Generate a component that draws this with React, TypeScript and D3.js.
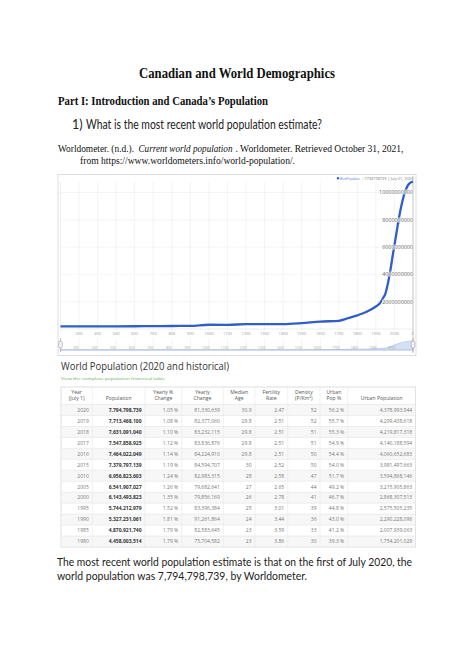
import React from "react";
import * as d3 from "d3";

// ---------- chart data (World Population, worldometers) ----------
const lineYears = [200, 400, 500, 600, 700, 800, 900, 1000, 1100, 1200, 1300, 1400, 1500, 1600, 1700, 1750, 1800, 1850, 1900, 1910, 1920, 1930, 1940, 1950, 1960, 1970, 1980, 1990, 2000, 2010, 2020, 2030, 2040, 2050, 2060, 2070, 2080, 2090, 2100];
const linePop = [190e6, 190e6, 190e6, 200e6, 210e6, 220e6, 226e6, 310e6, 301e6, 360e6, 360e6, 350e6, 425e6, 545e6, 600e6, 790e6, 1000e6, 1262e6, 1650e6, 1750e6, 1860e6, 2070e6, 2300e6, 2536e6, 3035e6, 3700e6, 4458e6, 5327e6, 6143e6, 6957e6, 7795e6, 8548e6, 9199e6, 9735e6, 10152e6, 10470e6, 10650e6, 10750e6, 10800e6];
const yTicks = [2e9, 4e9, 6e9, 8e9, 10e9];
const xTicks = [300, 400, 500, 600, 700, 800, 900, 1000, 1100, 1200, 1300, 1400, 1500, 1600, 1700, 1800, 1900, 2000, 2100];
const currentYear = 2020;
const currentPop = 7794798739;

// ---------- table data ----------
const headers = [["Year", "(July 1)"], ["Population"], ["Yearly %", "Change"], ["Yearly", "Change"], ["Median", "Age"], ["Fertility", "Rate"], ["Density", "(P/Km²)"], ["Urban", "Pop %"], ["Urban Population"]];
const tYears = ["2020", "2019", "2018", "2017", "2016", "2015", "2010", "2005", "2000", "1995", "1990", "1985", "1980"];
const tPop = ["7,794,798,739", "7,713,468,100", "7,631,091,040", "7,547,858,925", "7,464,022,049", "7,379,797,139", "6,956,823,603", "6,541,907,027", "6,143,493,823", "5,744,212,979", "5,327,231,061", "4,870,921,740", "4,458,003,514"];
const tPct = ["1.05 %", "1.08 %", "1.10 %", "1.12 %", "1.14 %", "1.19 %", "1.24 %", "1.26 %", "1.35 %", "1.52 %", "1.81 %", "1.79 %", "1.79 %"];
const tChange = ["81,330,639", "82,377,060", "83,232,115", "83,836,876", "84,224,910", "84,594,707", "82,983,315", "79,682,641", "79,856,169", "83,396,384", "91,261,864", "82,583,645", "75,704,582"];
const tAge = ["30.9", "29.8", "29.8", "29.8", "29.8", "30", "28", "27", "26", "25", "24", "23", "23"];
const tFert = ["2.47", "2.51", "2.51", "2.51", "2.51", "2.52", "2.58", "2.65", "2.78", "3.01", "3.44", "3.59", "3.86"];
const tDens = ["52", "52", "51", "51", "50", "50", "47", "44", "41", "39", "36", "33", "30"];
const tUrbPct = ["56.2 %", "55.7 %", "55.3 %", "54.9 %", "54.4 %", "54.0 %", "51.7 %", "49.2 %", "46.7 %", "44.8 %", "43.0 %", "41.2 %", "39.3 %"];
const tUrbPop = ["4,378,993,944", "4,299,438,618", "4,219,817,318", "4,140,188,594", "4,060,652,683", "3,981,497,663", "3,594,868,146", "3,215,905,863", "2,868,307,513", "2,575,505,235", "2,290,228,096", "2,007,939,063", "1,754,201,029"];

const colEdges = [61, 92.3, 145, 181.7, 223.3, 255, 287.7, 320, 347.7, 415.7];

const serif = "'Liberation Serif', 'Times New Roman', serif";
const sans = "Lato, 'Open Sans', sans-serif";
const web = "'Open Sans', 'Liberation Sans', Arial, sans-serif";

export default function App() {
  const x = d3.scaleLinear().domain([200, 2100]).range([60.5, 413]);
  const y = d3.scaleLinear().domain([0, 10e9]).range([329, 192.5]);
  const yMini = d3.scaleLinear().domain([0, 11e9]).range([350, 341]);
  const pts = lineYears.map((yr, i) => [yr, linePop[i]] as [number, number]);
  const line = d3.line<[number, number]>().x(d => x(d[0])).y(d => y(d[1])).curve(d3.curveMonotoneX);
  const miniArea = d3.area<[number, number]>().x(d => x(d[0])).y0(350).y1(d => yMini(d[1])).curve(d3.curveMonotoneX);

  const rows = tYears.map((yr, i) => [yr, tPop[i], tPct[i], tChange[i], tAge[i], tFert[i], tDens[i], tUrbPct[i], tUrbPop[i]]);
  const rowY = d3.scaleLinear().domain([0, rows.length]).range([404.5, 547]);
  const rowH = rowY(1) - rowY(0);

  return (
    <svg width={474} height={670} style={{ position: "absolute", left: 0, top: 0, background: "#fff" }}>
      <defs>
        <clipPath id="plotclip"><rect x={58} y={174} width={357} height={185} /></clipPath>
      </defs>
      <rect x={0} y={0} width={474} height={670} fill="#fff" />

      {/* document text */}
      <text x={237} y={78} textAnchor="middle" fontFamily={serif} fontWeight="bold" fontSize={14} textLength={196} lengthAdjust="spacingAndGlyphs" fill="#111">Canadian and World Demographics</text>
      <text x={58} y={104.5} fontFamily={serif} fontWeight="bold" fontSize={12.5} textLength={210} lengthAdjust="spacingAndGlyphs" fill="#111">Part I: Introduction and Canada’s Population</text>
      <text x={72} y={129} fontFamily={sans} fontSize={12.5} fill="#222">1)</text>
      <text x={86} y={129} fontFamily={sans} fontSize={12.5} textLength={236} lengthAdjust="spacingAndGlyphs" fill="#222">What is the most recent world population estimate?</text>
      <text x={58} y={151.5} fontFamily={serif} fontSize={10.8} textLength={76} lengthAdjust="spacingAndGlyphs" fill="#111">Worldometer. (n.d.).</text>
      <text x={138.5} y={151.5} fontFamily={serif} fontSize={10.8} fontStyle="italic" textLength={94} lengthAdjust="spacingAndGlyphs" fill="#111">Current world population</text>
      <text x={235.5} y={151.5} fontFamily={serif} fontSize={10.8} textLength={168} lengthAdjust="spacingAndGlyphs" fill="#111">. Worldometer. Retrieved October 31, 2021,</text>
      <text x={80} y={163.5} fontFamily={serif} fontSize={10.8} textLength={215} lengthAdjust="spacingAndGlyphs" fill="#111">from https://www.worldometers.info/world-population/.</text>

      {/* chart screenshot frame */}
      <rect x={58} y={174.5} width={358} height={181} fill="#fff" stroke="#d4d4d4" strokeWidth={0.8} />

      {/* gridlines */}
      {xTicks.slice(0, -1).map(t => (
        <line key={"gx" + t} x1={x(t)} x2={x(t)} y1={182} y2={331} stroke="#ececec" strokeWidth={0.6} />
      ))}
      {yTicks.map(t => (
        <line key={"gy" + t} x1={60.5} x2={413} y1={y(t)} y2={y(t)} stroke="#efefef" strokeWidth={0.6} />
      ))}
      <line x1={60.5} x2={60.5} y1={182} y2={331} stroke="#e2e2e2" strokeWidth={0.6} />
      <line x1={x(2100)} x2={x(2100)} y1={176} y2={353} stroke="#bdbdbd" strokeWidth={0.9} />
      <line x1={60.5} x2={413} y1={y(0)} y2={y(0)} stroke="#e0e0e0" strokeWidth={0.6} />

      {/* legend */}
      <circle cx={338} cy={178.3} r={1.2} fill="#3366cc" />
      <text x={340} y={179.6} fontFamily={web} fontSize={3.1} textLength={19.5} lengthAdjust="spacingAndGlyphs" fill="#3a6fd0">World Population</text>
      <text x={362.5} y={179.6} fontFamily={web} fontSize={3.1} textLength={50.5} lengthAdjust="spacingAndGlyphs" fill="#777">{`: ${currentPop} | July 01, ${currentYear}`}</text>

      {/* line */}
      <g clipPath="url(#plotclip)">
        <path d={line(pts) || ""} fill="none" stroke="#2f5fc6" strokeWidth={2.3} strokeLinejoin="round" />
      </g>
      <path d={`M${x(currentYear)},${y(currentPop) - 2.2} l-1.6,3.2 l3.2,0 z`} fill="#2f5fc6" />

      {/* y labels */}
      {yTicks.map(t => (
        <text key={"yl" + t} x={413} y={y(t) + 1.8} textAnchor="end" fontFamily={web} fontSize={5.4} fill="#666"
          stroke="#fff" strokeWidth={1.2} strokeOpacity={0.85} paintOrder="stroke">{String(t)}</text>
      ))}

      {/* x labels */}
      {xTicks.slice(0, -1).map(t => (
        <text key={"xl" + t} x={x(t)} y={335} textAnchor="middle" fontFamily={web} fontSize={4} fill="#999">{String(t)}</text>
      ))}
      <text x={x(2100) - 0.5} y={335} textAnchor="middle" fontFamily={web} fontSize={4} fill="#999">{String(xTicks[xTicks.length - 1]).slice(0, 1)}</text>

      {/* navigator */}
      {xTicks.slice(0, -1).map(t => (
        <line key={"nx" + t} x1={x(t)} x2={x(t)} y1={338} y2={350} stroke="#e6e6e6" strokeWidth={0.5} />
      ))}
      <path d={miniArea(pts) || ""} fill="#d5e0f5" stroke="#9db4e0" strokeWidth={0.5} />
      <line x1={60.5} x2={413} y1={350} y2={350} stroke="#a9b9d9" strokeWidth={0.5} />
      {xTicks.slice(0, -1).map(t => (
        <text key={"nl" + t} x={x(t) - 3} y={349.3} textAnchor="middle" fontFamily={web} fontSize={3.4} fill="#aaa">{String(t)}</text>
      ))}
      {[200, 2100].map(t => (
        <g key={"h" + t}>
          <line x1={x(t)} x2={x(t)} y1={338} y2={352} stroke="#888" strokeWidth={0.5} />
          <rect x={x(t) - 1.8} y={341} width={3.6} height={7} rx={1.5} fill="#f4f4f4" stroke="#888" strokeWidth={0.5} />
        </g>
      ))}

      {/* table title */}
      <text x={61} y={369.5} fontFamily={web} fontSize={11.2} textLength={168} lengthAdjust="spacingAndGlyphs" fill="#333">World Population (2020 and historical)</text>
      <text x={61} y={380} fontFamily={web} fontSize={4.3} textLength={104} lengthAdjust="spacingAndGlyphs" fill="#6aa84f">View the complete population historical table</text>

      {/* table */}
      <rect x={colEdges[0]} y={387} width={colEdges[colEdges.length - 1] - colEdges[0]} height={rowY(rows.length) - 387} fill="#fff" stroke="#e0e0e0" strokeWidth={0.6} />
      {rows.map((r, i) => (
        i % 2 === 0 ? <rect key={"bg" + i} x={colEdges[0]} y={rowY(i)} width={colEdges[colEdges.length - 1] - colEdges[0]} height={rowH} fill="#f7f7f7" /> : null
      ))}
      {rows.map((r, i) => (
        <line key={"rl" + i} x1={colEdges[0]} x2={colEdges[colEdges.length - 1]} y1={rowY(i)} y2={rowY(i)} stroke="#e4e4e4" strokeWidth={0.6} />
      ))}
      {colEdges.slice(1, -1).map((cx, i) => (
        <line key={"cl" + i} x1={cx} x2={cx} y1={387} y2={rowY(rows.length)} stroke="#e8e8e8" strokeWidth={0.6} />
      ))}
      <rect x={colEdges[0]} y={387} width={colEdges[colEdges.length - 1] - colEdges[0]} height={rowY(rows.length) - 387} fill="none" stroke="#dcdcdc" strokeWidth={0.6} />
      {headers.map((h, c) => {
        const cx = (colEdges[c] + colEdges[c + 1]) / 2;
        return (
          <g key={"hd" + c}>
            {h.map((s, k) => (
              <text key={k} x={cx} y={h.length === 1 ? 400.3 : 393.5 + k * 6.8} textAnchor="middle" fontFamily={web} fontSize={5.1} fill="#555">{s}</text>
            ))}
          </g>
        );
      })}
      {rows.map((r, i) => (
        <g key={"row" + i}>
          {r.map((s, c) => (
            <text key={c} x={colEdges[c + 1] - 3.5} y={rowY(i) + rowH / 2 + 1.8} textAnchor="end" fontFamily={web}
              fontSize={5} fontWeight={c === 1 ? "bold" : "normal"} fill={c === 1 ? "#333" : "#777"}>{s}</text>
          ))}
        </g>
      ))}

      {/* bottom answer */}
      <text x={57} y={566} fontFamily={sans} fontSize={12} textLength={355} lengthAdjust="spacingAndGlyphs" fill="#222">The most recent world population estimate is that on the first of July 2020, the</text>
      <text x={57} y={580} fontFamily={sans} fontSize={12} textLength={250} lengthAdjust="spacingAndGlyphs" fill="#222">world population was 7,794,798,739, by Worldometer.</text>
    </svg>
  );
}
